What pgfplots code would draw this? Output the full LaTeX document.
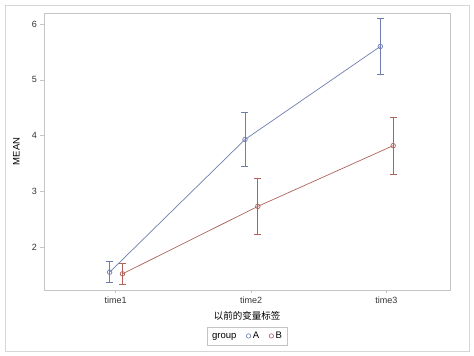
\documentclass[border=0pt]{standalone}
\usepackage{pgfplots}
\pgfplotsset{compat=1.18}
\usepackage{fontspec}
\setmainfont{Liberation Sans}
\newfontfamily\cjk{Noto Sans CJK SC}
\definecolor{ca}{HTML}{6E7DAE}
\definecolor{cb}{HTML}{B0625A}
\definecolor{framec}{HTML}{C4C4C4}
\definecolor{txt}{HTML}{333333}
\begin{document}
\begin{tikzpicture}[x=1pt,y=1pt]
\useasboundingbox (0,0) rectangle (474,356);
\draw[framec!70] (5,5) rectangle (469,351);
\begin{axis}[at={(44pt,66pt)}, anchor=south west, scale only axis,
  width=406pt, height=277pt,
  xmin=0.47, xmax=3.47, ymin=1.23, ymax=6.2,
  xtick={1,2,3}, xticklabels={time1,time2,time3},
  ytick={2,3,4,5,6},
  axis line style={framec, line width=0.9pt},
  tick style={framec, line width=0.6pt}, tick align=outside, major tick length=3.5pt,
  xtick pos=bottom, ytick pos=left,
  ticklabel style={font=\fontsize{9}{10}\selectfont, text=txt},
  /pgf/number format/assume math mode=true,
  xlabel={\cjk 以前的变量标签}, ylabel={MEAN},
  label style={font=\fontsize{9.5}{11}\selectfont, text=black},
  xlabel style={at={(axis description cs:0.5,-0.094)}, anchor=center},
  ylabel style={at={(axis description cs:-0.068,0.5)}, anchor=center},
  legend style={at={(0.5,-0.133)}, anchor=north, draw=framec,
    font=\fontsize{9.5}{10}\selectfont,
    nodes={text height=1.6ex, text depth=0.45ex},
    legend columns=3, /tikz/every even column/.append style={column sep=8pt},
    inner xsep=3pt, inner ysep=1.5pt},
  legend cell align=left,
]
\addlegendimage{empty legend}\addlegendentry{group}
\addlegendimage{only marks, mark=o, ca, mark size=2.2pt, line width=0.6pt}\addlegendentry{A}
\addlegendimage{only marks, mark=o, cb, mark size=2.2pt, line width=0.6pt}\addlegendentry{B}

\addplot[forget plot, color=ca, line width=0.7pt, mark=o, mark size=2.3pt,
  error bars/.cd, y dir=both, y explicit,
  error bar style={ca, line width=0.8pt},
  error mark options={rotate=90, mark size=3.5pt, ca, line width=0.8pt}]
  table[x=x, y=y, y error=e] {
x y e
0.955 1.55 0.19
1.955 3.93 0.49
2.955 5.60 0.50
};
\addplot[forget plot, color=cb, line width=0.7pt, mark=o, mark size=2.3pt,
  error bars/.cd, y dir=both, y explicit,
  error bar style={cb, line width=0.8pt},
  error mark options={rotate=90, mark size=3.5pt, cb, line width=0.8pt}]
  table[x=x, y=y, y error=e] {
x y e
1.05 1.52 0.19
2.05 2.73 0.50
3.05 3.82 0.51
};
\end{axis}
\end{tikzpicture}
\end{document}
